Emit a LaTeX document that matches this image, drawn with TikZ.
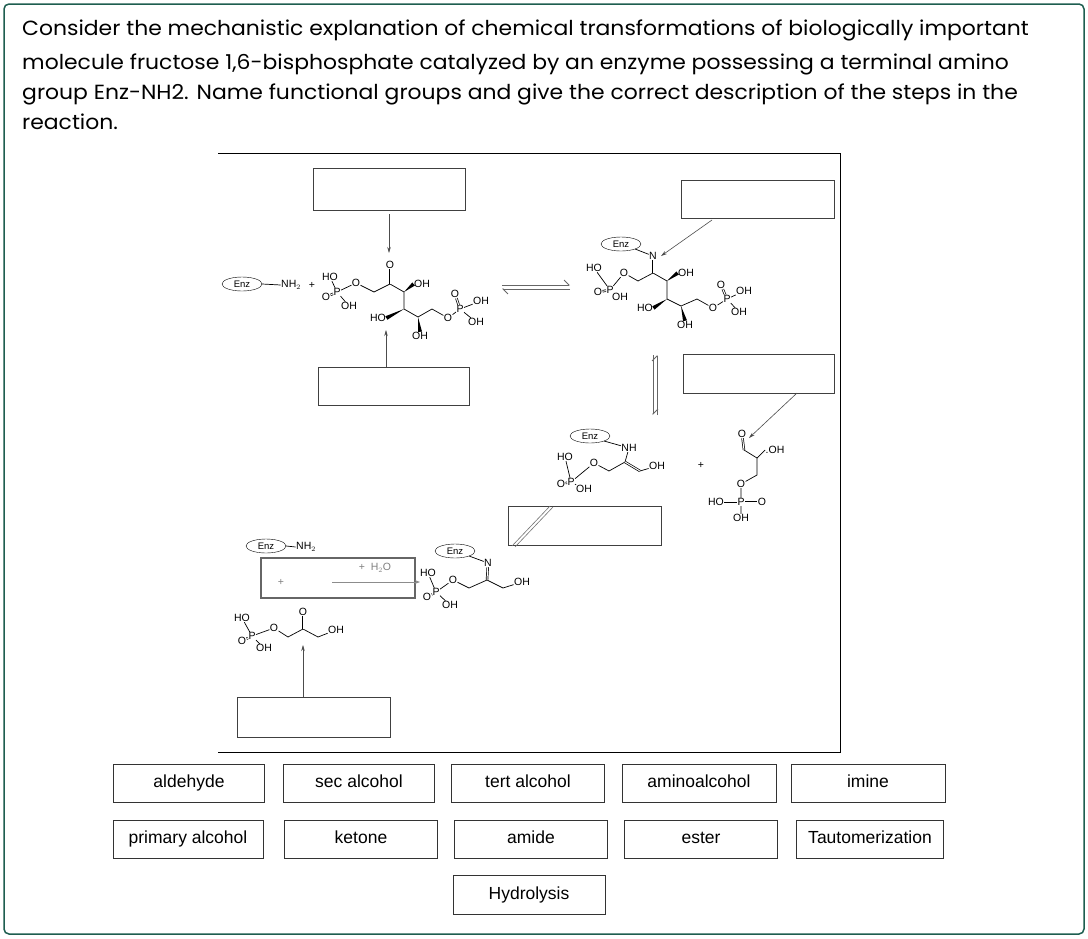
\documentclass[tikz,border=0pt]{standalone}
\usepackage{fontspec}
\setmainfont{Liberation Sans}
\newfontfamily\titlefont{Poppins}
\usetikzlibrary{calc,arrows.meta,shapes.geometric}
\newcommand\wdg[2]{\fill (#1) -- ($(#2)!2pt!90:(#1)$) -- ($(#2)!2pt!-90:(#1)$) -- cycle;}
\newcommand\ttl[1]{\scalebox{1.068}[1]{#1}}
\definecolor{frame}{HTML}{1E5E50}
\begin{document}
\begin{tikzpicture}[x=1pt,y=-1pt,
  a/.style={font=\fontsize{10.5}{10.5}\selectfont, inner sep=0.3pt},
  enz/.style={draw,ellipse,minimum width=40pt,minimum height=14pt,inner sep=0pt,font=\fontsize{9.5}{9.5}\selectfont},
  blank/.style={draw=black!75,line width=0.8pt},
  ans/.style={draw=black!80,line width=0.9pt,minimum width=151pt,minimum height=38pt,font=\fontsize{17.5}{17.5}\selectfont,inner sep=0pt,text height=12.5pt,text depth=3.5pt},
  b/.style={line width=0.7pt},
  ar/.style={-{Stealth[length=6pt,width=3.5pt]},line width=0.6pt,black!70}]
\useasboundingbox (0,0) rectangle (1088,938);
\draw[frame,line width=1.5pt,rounded corners=5pt] (4,4) rectangle (1084,934);
\begin{scope}[font=\titlefont\fontsize{20.5}{20.5}\selectfont]
\node[anchor=base west,inner sep=0] (t1) at (22,35) {\ttl{Consider the mechanistic explanation of chemical transformations of biologically important}};
\node[anchor=base west,inner sep=0] (t2) at (22,69) {\ttl{molecule fructose 1,6-bisphosphate catalyzed by an enzyme possessing a terminal amino}};
\node[anchor=base west,inner sep=0] (t3) at (22,99) {\ttl{group Enz-NH2. Name functional groups and give the correct description of the steps in the}};
\node[anchor=base west,inner sep=0] (t4) at (22,129) {\ttl{reaction.}};
\end{scope}
\draw[line width=1pt] (218,153) -- (840,153) -- (840,752) -- (218,752);
\draw[blank] (313,168) rectangle (465,210);
\draw[blank] (681,180) rectangle (834,218);
\draw[blank] (318,367) rectangle (469,405);
\draw[blank] (683,354) rectangle (834,393);
\draw[blank] (508,506) rectangle (661,545);
\draw[blank] (237,697) rectangle (390,737);
\draw[draw=black!60,line width=1.2pt] (261,558) rectangle (415,598);
% ---- molecule 1
\node[enz] (e1) at (242,284) {Enz};
\node[a] (n1) at (291,285) {NH$_2$};
\draw[b] (e1.east) -- (n1.west);
\node[a] at (312,285) {+};
\node[a] (ho1) at (330,277) {HO};
\node[a] (p1) at (337,292) {P};
\node[a] (od1) at (326,297) {O};
\node[a] (oh1) at (349,306) {OH};
\node[a] (o1) at (356,283) {O};
\draw[b] (ho1) -- (p1); \draw[b] (p1) -- (oh1); \draw[b] (p1) -- (o1);
\draw[b,double,double distance=1pt] (od1) -- (p1);
\coordinate (c1) at (374,292); \coordinate (c2) at (390,284); \coordinate (c3) at (404,292);
\coordinate (c4) at (404,309); \coordinate (c5) at (418,317); \coordinate (c6) at (432,309);
\node[a] (ok1) at (390,265) {O};
\node[a] (oh3) at (422,284) {OH};
\node[a] (oh4) at (378,318) {HO};
\node[a] (oh5) at (420,336) {OH};
\node[a] (o6) at (448,318) {O};
\node[a] (p6) at (460,309) {P};
\node[a] (od6) at (455,294) {O};
\node[a] (oh6a) at (481,301) {OH};
\node[a] (oh6b) at (476,322) {OH};
\draw[b] (o1) -- (c1) -- (c2) -- (c3) -- (c4) -- (c5) -- (c6) -- (o6) -- (p6) -- (oh6a); \draw[b] (p6) -- (oh6b);
\draw[b,double,double distance=1pt] (c2) -- (ok1);
\draw[b,double,double distance=1pt] (p6) -- (od6);
\wdg{c3}{oh3.west} \wdg{c4}{oh4.east} \wdg{c5}{oh5.north}
\draw[ar] (389,214) -- (389,253);
\draw[ar] (386,367) -- (386,330);
\draw[black!60,line width=0.8pt,-{Straight Barb[left,length=5pt]}] (502,285) -- (570,285);
\draw[black!60,line width=0.8pt,-{Straight Barb[left,length=5pt]}] (570,289) -- (502,289);
% ---- molecule 2
\node[enz] (e2) at (621,244) {Enz};
\node[a] (n2) at (653,256) {N};
\draw[b] (e2.south east) -- (n2);
\node[a] (ho2) at (594,268) {HO};
\node[a] (p2) at (610,290) {P};
\node[a] (od2) at (598,292) {O};
\node[a] (oh2) at (620,297) {OH};
\node[a] (o2) at (624,273) {O};
\draw[b] (ho2) -- (p2); \draw[b] (p2) -- (oh2); \draw[b] (p2) -- (o2);
\draw[b,double,double distance=1pt] (od2) -- (p2);
\coordinate (d1) at (638,281); \coordinate (d2) at (653,273); \coordinate (d3) at (667,281);
\coordinate (d4) at (667,299); \coordinate (d5) at (681,306); \coordinate (d6) at (697,299);
\node[a] (q3) at (686,273) {OH};
\node[a] (q4) at (645,308) {HO};
\node[a] (q5) at (685,325) {OH};
\node[a] (o7) at (713,308) {O};
\node[a] (p7) at (727,299) {P};
\node[a] (od7) at (721,285) {O};
\node[a] (q6a) at (744,291) {OH};
\node[a] (q6b) at (739,312) {OH};
\draw[b] (o2) -- (d1) -- (d2) -- (d3) -- (d4) -- (d5) -- (d6) -- (o7) -- (p7) -- (q6a); \draw[b] (p7) -- (q6b);
\draw[b,double,double distance=1pt] (d2) -- (n2);
\draw[b,double,double distance=1pt] (p7) -- (od7);
\wdg{d3}{q3.west} \wdg{d4}{q4.east} \wdg{d5}{q5.north}
\draw[ar] (712,220) -- (661,256);
\draw[black!60,line width=0.8pt,-{Straight Barb[left,length=5pt]}] (653,355) -- (653,415);
\draw[black!60,line width=0.8pt,-{Straight Barb[left,length=5pt]}] (657,415) -- (657,355);
% ---- molecule 3
\node[enz] (e3) at (590,436) {Enz};
\node[a] (n3) at (629,448) {NH};
\draw[b] (e3.south east) -- (n3);
\node[a] (ho3) at (565,457) {HO};
\node[a] (p3) at (571,482) {P};
\node[a] (od3) at (561,484) {O};
\node[a] (oh3b) at (584,489) {OH};
\node[a] (o3) at (594,463) {O};
\draw[b] (ho3) -- (p3); \draw[b] (p3) -- (oh3b); \draw[b] (p3) -- (o3);
\draw[b,double,double distance=1pt] (od3) -- (p3);
\coordinate (f1) at (609,471); \coordinate (f2) at (625,462); \coordinate (f3) at (640,471);
\node[a] (q7) at (657,466) {OH};
\draw[b] (o3) -- (f1) -- (f2) -- (n3); \draw[b,double,double distance=1pt] (f2) -- (f3); \draw[b] (f3) -- (q7);
\node[a] at (701,465) {+};
\node[a] (ga) at (742,434) {O};
\coordinate (g1) at (744,450); \coordinate (g2) at (757,458); \coordinate (g3) at (757,475);
\node[a] (gh) at (775,450) {.OH};
\node[a] (go) at (741,484) {O};
\node[a] (gp) at (741,502) {P};
\node[a] (gho) at (716,502) {HO};
\node[a] (god) at (762,502) {O};
\node[a] (goh) at (741,518) {OH};
\draw[b,double,double distance=1pt] (ga) -- (g1);
\draw[b] (g1) -- (g2) -- (g3) -- (go) -- (gp) -- (goh); \draw[b] (g2) -- (gh.west);
\draw[b] (gho) -- (gp); \draw[b,double,double distance=1pt] (gp) -- (god);
\draw[ar] (797,393) -- (749,438);
\draw[black!55,line width=0.6pt] (550,506) -- (512,546);
\draw[black!55,line width=0.6pt] (553,507) -- (515,547);
% ---- molecule 4
\node[enz] (e4) at (266,546) {Enz};
\node[a] (n4) at (306,547) {NH$_2$};
\draw[b] (e4.east) -- (n4.west);
\node[a,black!50] at (375,568) {+\ \ H$_2$O};
\node[a,black!50] at (281,582) {+};
\draw[black!45,line width=1pt,-{Stealth[length=5pt]}] (332,582) -- (420,582);
\node[enz] (e5) at (455,551) {Enz};
\node[a] (n5) at (488,563) {N};
\draw[b] (e5.south east) -- (n5);
\node[a] (ho5) at (428,573) {HO};
\node[a] (p5) at (436,592) {P};
\node[a] (od5) at (427,597) {O};
\node[a] (oh5b) at (450,605) {OH};
\node[a] (o5) at (453,580) {O};
\draw[b] (ho5) -- (p5); \draw[b] (p5) -- (oh5b); \draw[b] (p5) -- (o5);
\draw[b,double,double distance=1pt] (od5) -- (p5);
\coordinate (h1) at (469,588); \coordinate (h2) at (487,580); \coordinate (h3) at (503,588);
\node[a] (q8) at (522,582) {OH};
\draw[b] (o5) -- (h1) -- (h2) -- (h3) -- (q8); \draw[b,double,double distance=1pt] (h2) -- (n5);
\node[a] (ho6) at (242,618) {HO};
\node[a] (p8) at (252,636) {P};
\node[a] (od8) at (242,641) {O};
\node[a] (oh8) at (264,648) {OH};
\node[a] (o8) at (274,628) {O};
\draw[b] (ho6) -- (p8); \draw[b] (p8) -- (oh8); \draw[b] (p8) -- (o8);
\draw[b,double,double distance=1pt] (od8) -- (p8);
\coordinate (k1) at (288,637); \coordinate (k2) at (303,629); \coordinate (k3) at (318,637);
\node[a] (ok8) at (303,612) {O};
\node[a] (q9) at (336,630) {OH};
\draw[b] (o8) -- (k1) -- (k2) -- (k3) -- (q9); \draw[b,double,double distance=1pt] (k2) -- (ok8);
\draw[ar] (303,697) -- (303,645);
% answers
\node[ans] (w1) at (189,783) {aldehyde};
\node[ans] (w2) at (359,783) {sec alcohol};
\node[ans,minimum width=153pt] (w3) at (528,783) {tert alcohol};
\node[ans,minimum width=154pt] (w4) at (699,783) {aminoalcohol};
\node[ans,minimum width=154pt] (w5) at (868,783) {imine};
\node[ans,minimum width=150pt] (w6) at (188,839) {primary alcohol};
\node[ans,minimum width=153pt] (w7) at (361,839) {ketone};
\node[ans,minimum width=153pt] (w8) at (531,839) {amide};
\node[ans,minimum width=153pt] (w9) at (701,839) {ester};
\node[ans,minimum width=147pt] (w10) at (870,839) {Tautomerization};
\node[ans,minimum width=152pt,minimum height=39pt] (w11) at (529,895) {Hydrolysis};
\end{tikzpicture}
\end{document}
